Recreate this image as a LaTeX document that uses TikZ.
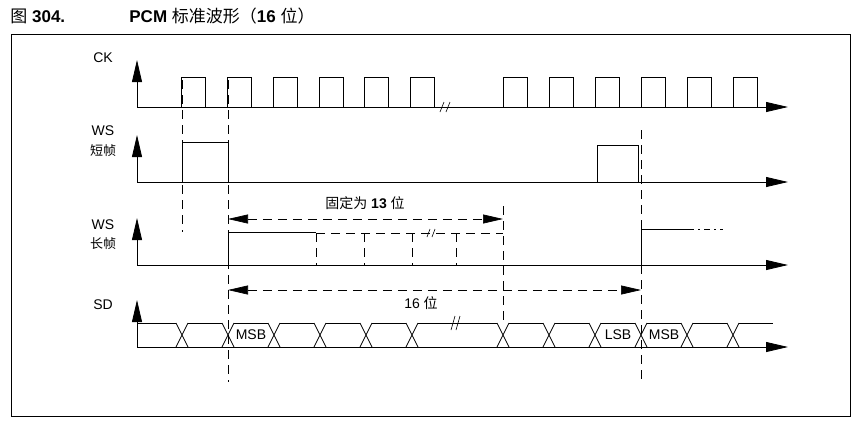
\documentclass[tikz,border=0pt]{standalone}
\usepackage{fontspec}
\setmainfont{Liberation Sans}
\newfontfamily\cjk{Noto Sans CJK SC}
\usetikzlibrary{arrows.meta}
\begin{document}
\begin{tikzpicture}[x=1pt,y=-1pt,line width=0.8pt,
  ax/.style={-{Triangle[length=22pt,width=10pt]}},
  dl/.style={dash pattern=on 9pt off 6pt, line width=0.7pt},
  dim/.style={dl,{Triangle[length=20pt,width=9pt]}-{Triangle[length=20pt,width=9pt]}},
  lbl/.style={font=\fontsize{14}{16}\selectfont},
  clbl/.style={font=\cjk\fontsize{13}{15}\selectfont}]
\useasboundingbox (0,0) rectangle (864,424);
\draw[line width=0.6pt] (11,34) rectangle (850,416);
\node[anchor=base west,font=\fontsize{17}{19}\selectfont,inner sep=0] at (10,22) {{\cjk 图} \textbf{304.}};
\node[anchor=base west,font=\fontsize{17}{19}\selectfont,inner sep=0] at (129,22) {\textbf{PCM} {\cjk 标准波形（}\textbf{16} {\cjk 位）}};
% labels
\node[lbl] (ck) at (103,58) {CK};
\node[lbl] (ws1) at (103,131) {WS};
\node[clbl] (ws1b) at (103,151) {短帧};
\node[lbl] (ws2) at (103,225) {WS};
\node[clbl] (ws2b) at (103,244) {长帧};
\node[lbl] (sd) at (103,305) {SD};
% CK
\draw[ax] (137,107) -- (137,60);
\draw[ax] (137,107) -- (788,107);
\foreach \x in {181,227,273,319,364,410,503,549,595,641,687,733}
  \draw (\x,107) -- (\x,77) -- (\x+24,77) -- (\x+24,107);
\draw[line width=0.6pt] (440,112) -- (444,102) (446,112) -- (450,102);
% WS short
\draw[ax] (137,182) -- (137,135);
\draw[ax] (137,182) -- (788,182);
\draw (182,182) -- (182,142) -- (228,142) -- (228,182);
\draw (597,182) -- (597,145) -- (638,145) -- (638,182);
% WS long
\draw[ax] (137,265) -- (137,218);
\draw[ax] (137,265) -- (788,265);
\draw (228,265) -- (228,232) -- (316,232);
\draw[dl] (316,233) -- (503,233);
\foreach \x in {316,364,412,456} \draw[dl] (\x,233) -- (\x,265);
\draw[line width=0.6pt] (427,237) -- (430,229) (432,237) -- (435,229);
\draw (641,265) -- (641,229) -- (688,229);
\draw[line width=0.7pt,dash pattern=on 6pt off 4pt on 2pt off 4pt] (688,229) -- (723,229);
% SD
\draw[ax] (137,347) -- (137,300);
\draw[ax] (137,347) -- (788,347);
\def\cl{182,228,274,320,366,412,503,549,595,641,687,733}
\foreach \x in \cl \draw (\x-6,323) -- (\x+6,347) (\x-6,347) -- (\x+6,323);
\draw (137,323) -- (176,323);
\foreach \a/\b in {182/228,228/274,274/320,320/366,366/412,412/503,503/549,549/595,595/641,641/687,687/733}
  \draw (\a+6,323) -- (\b-6,323);
\draw (739,323) -- (773,323);
\draw[line width=0.6pt] (451,330) -- (455,316) (456,330) -- (460,316);
\node[lbl,inner sep=0] (m1) at (251,335) {MSB};
\node[lbl,inner sep=0] (l1) at (618,335) {LSB};
\node[lbl,inner sep=0] (m2) at (664,335) {MSB};
% dashed verticals
\draw[dl] (182,80) -- (182,232);
\draw[dl] (228,80) -- (228,382);
\draw[dl] (503,206) -- (503,322);
\draw[dl] (641,130) -- (641,382);
% dimension arrows
\draw[dim] (228,219) -- (503,219);
\node[font=\fontsize{14}{16}\selectfont] (t13) at (365,203) {{\cjk 固定为} \textbf{13} {\cjk 位}};
\draw[dim] (228,290) -- (641,290);
\node[font=\fontsize{14}{16}\selectfont] (t16) at (421,303) {16 {\cjk 位}};
\end{tikzpicture}
\end{document}
